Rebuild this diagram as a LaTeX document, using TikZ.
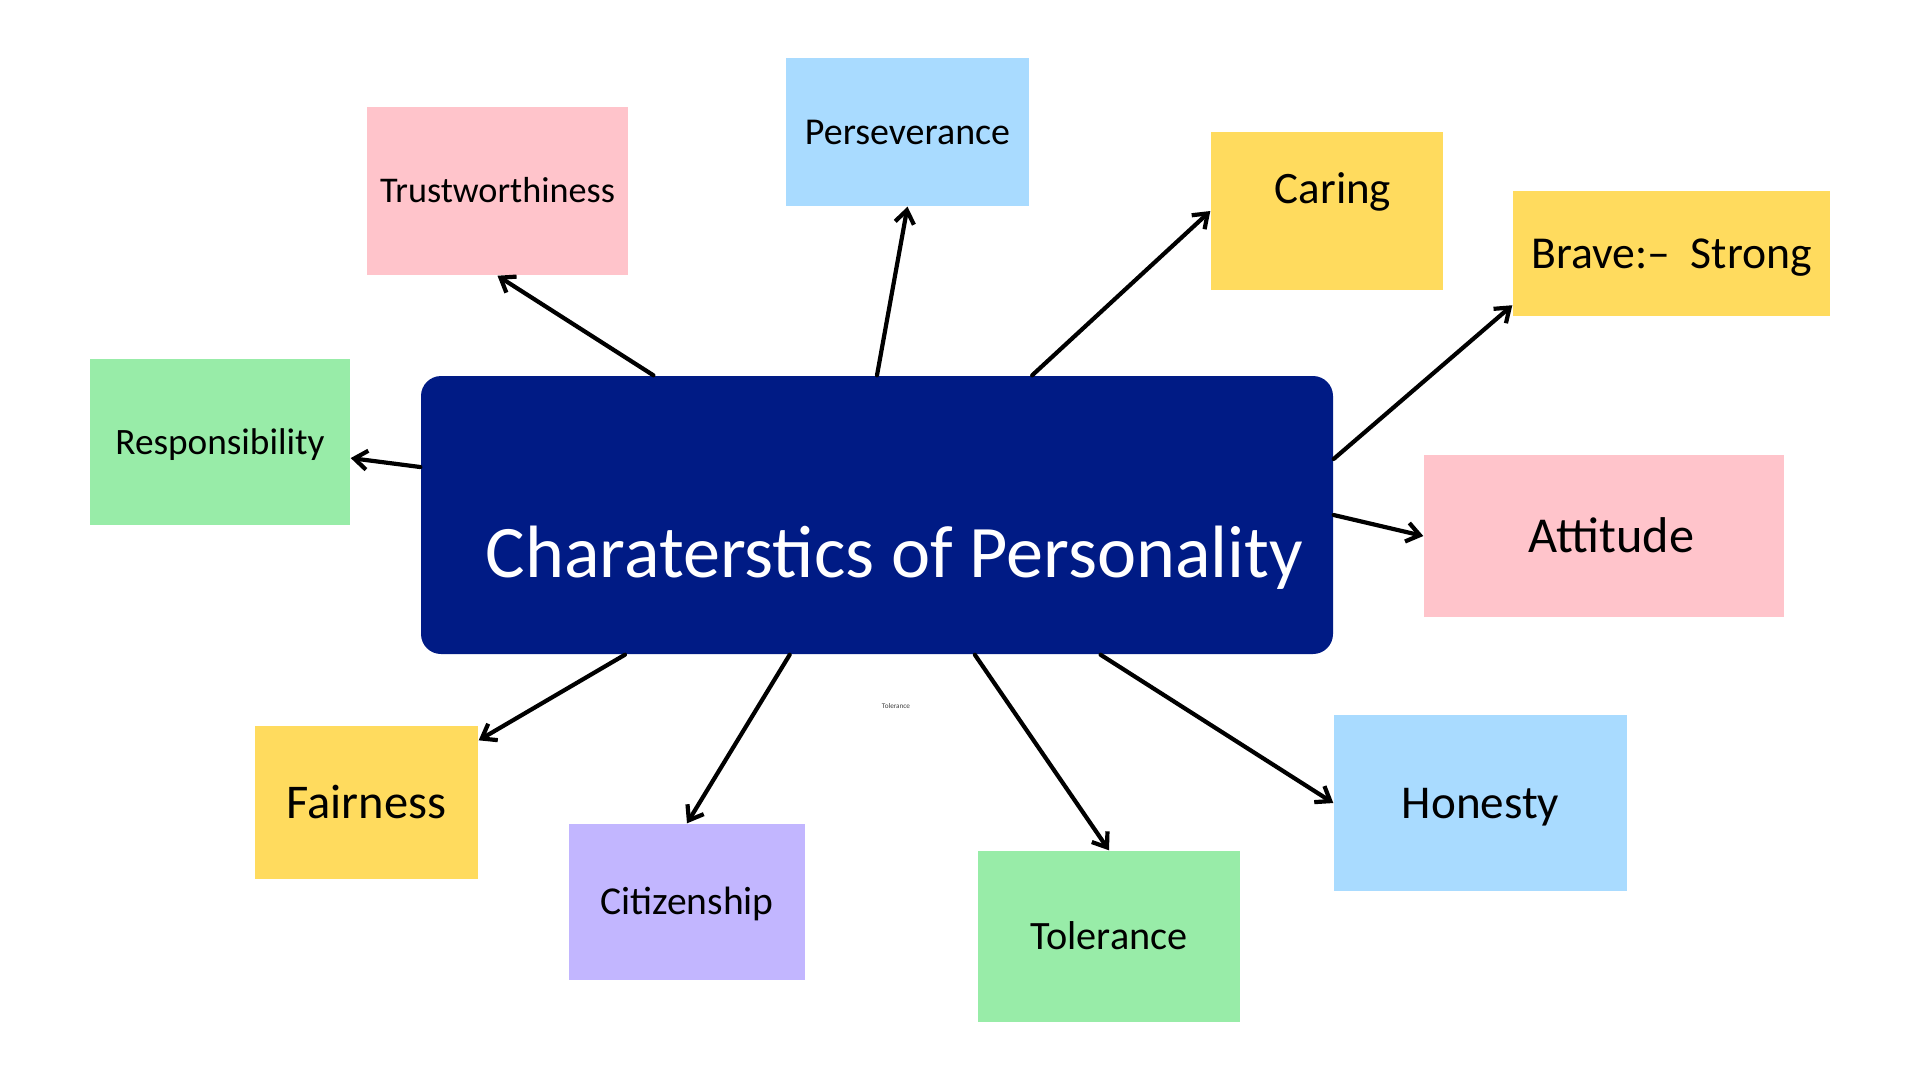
\documentclass[tikz,border=0pt]{standalone}
\usepackage{fontspec}
\setmainfont{Carlito}
\usetikzlibrary{arrows.meta}
\definecolor{MyNavy}{RGB}{0,27,133}
\definecolor{MyPink}{RGB}{255,196,203}
\definecolor{MyBlue}{RGB}{169,219,255}
\definecolor{MyYellow}{RGB}{255,219,94}
\definecolor{MyGreen}{RGB}{152,236,168}
\definecolor{MyLilac}{RGB}{194,182,255}
\newcommand{\fsz}[1]{\fontsize{#1}{#1}\selectfont}

\begin{document}
\begin{tikzpicture}[x=0.1mm,y=-0.1mm,
    card/.style={inner sep=0pt, font=\fsz{#1},
        /utils/exec={\pgfmathsetmacro\cardh{0.644*#1}},
        text height=\cardh pt, text depth=0pt},
    link/.style={line width=0.42mm, line cap=round,
        -{Straight Barb[length=1.3mm,width=1.9mm]}}]
                    \fill[white] (0,0) rectangle (1920,1080);
                    \useasboundingbox (0,0) rectangle (1920,1080);
%                    centre
                    \node[fill=MyNavy, rounded corners=2mm, minimum width=91.2mm, minimum height=27.8mm] (core) at (877,515) {};
                    \node[font=\fsz{21.1}, text=white, anchor=base] (title) at (894.5,577) {Charaterstics of Personality};
%                    cards
                    \node[card=10.3, fill=MyPink, minimum width=26.1mm, minimum height=16.8mm] (trust) at (497.5,191) {Trustworthiness};
                    \node[card=10.8, fill=MyBlue, minimum width=24.3mm, minimum height=14.8mm] (persev) at (907.5,132) {Perseverance};
                    \node[fill=MyYellow, minimum width=23.2mm, minimum height=15.8mm] (caring) at (1327,211) {};
                    \node[card=12.8] (caringtxt) at ([xshift=0.6mm,yshift=2.25mm]caring.center) {Caring};
                    \node[card=13, fill=MyYellow, minimum width=31.7mm, minimum height=12.5mm] (brave) at (1671.5,253.5) {Brave:–\ \ Strong};
                    \node[fill=MyPink, minimum width=36mm, minimum height=16.2mm] (attitude) at (1604,536) {};
                    \node[card=14.3] (attitudetxt) at ([xshift=0.75mm]attitude.center) {Attitude};
                    \node[card=10.6, fill=MyGreen, minimum width=26mm, minimum height=16.6mm] (resp) at (220,442) {Responsibility};
                    \node[card=13.8, fill=MyYellow, minimum width=22.3mm, minimum height=15.3mm] (fair) at (366.5,802.5) {Fairness};
                    \node[card=11.25, fill=MyLilac, minimum width=23.6mm, minimum height=15.6mm] (citizen) at (687,902) {Citizenship};
                    \node[card=11.45, fill=MyGreen, minimum width=26.2mm, minimum height=17.1mm] (toler) at (1109,936.5) {Tolerance};
                    \node[card=13.4, fill=MyBlue, minimum width=29.3mm, minimum height=17.6mm] (honest) at (1480.5,803) {Honesty};
                    \node[font=\fsz{2.05}, text=darkgray] (tinytol) at (896,706) {Tolerance};
%                    arrows
                    \draw[link] (core.148) -- (trust.south);
                    \draw[link] (core.90) -- (persev.south);
                    \draw[link] (core.42) -- (caring.west);
                    \draw[link] (core.7) -- (brave.198);
                    \draw[link] (core.0) -- (attitude.west);
                    \draw[link] (core.174) -- (resp.353);
                    \draw[link] (core.209) -- (fair.29);
                    \draw[link] (core.238) -- (citizen.north);
                    \draw[link] (core.305) -- (toler.north);
                    \draw[link] (core.328) -- (honest.west);

                \end{tikzpicture}
\end{document}
